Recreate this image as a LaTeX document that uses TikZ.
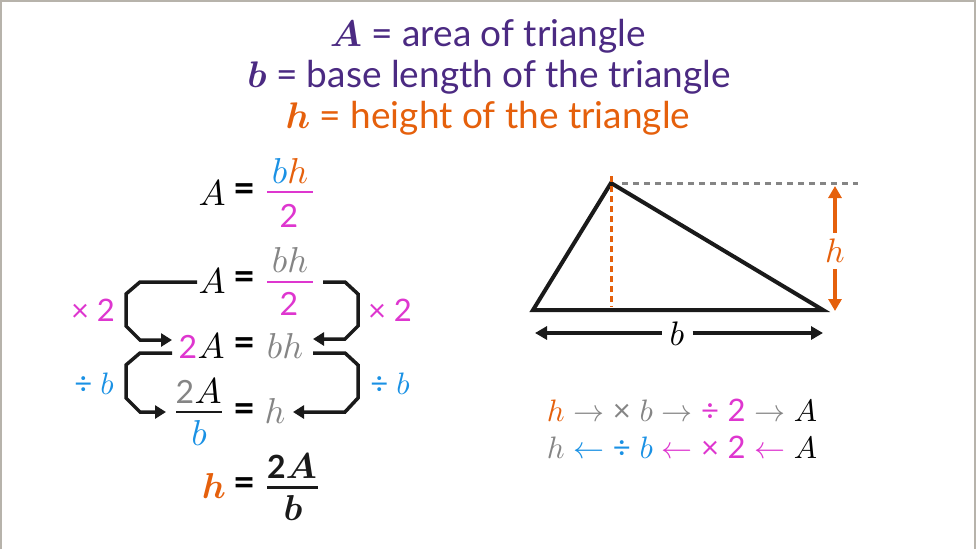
\documentclass[tikz,border=0pt]{standalone}
\usepackage{amsmath}
\usepackage{fontspec}
\setmainfont{Lato}
\setsansfont{Lato}
\DeclareFontShape{OML}{cmm}{m}{it}{<->cmmi10}{}
\DeclareFontShape{OML}{cmm}{b}{it}{<->cmmib10}{}
\DeclareFontShape{OMS}{cmsy}{m}{n}{<->cmsy10}{}
\DeclareFontShape{OMS}{cmsy}{b}{n}{<->cmbsy10}{}
\usetikzlibrary{arrows.meta}
\definecolor{tpurple}{HTML}{4B2A82}
\definecolor{torange}{HTML}{E5600C}
\definecolor{tblue}{HTML}{1A91E4}
\definecolor{tmag}{HTML}{DE36CF}
\definecolor{tgray}{HTML}{858585}
\definecolor{tframe}{HTML}{B7B3AB}
\definecolor{ink}{HTML}{1A1A1A}
\tikzset{
  ttl/.style={font=\fontsize{37}{42}\selectfont, anchor=base, inner sep=0pt},
  eq/.style={font=\fontsize{36}{40}\selectfont, anchor=base, inner sep=0pt},
  dig/.style={font=\fontsize{32}{36}\selectfont, anchor=base, inner sep=0pt},
  eqop/.style={font=\fontsize{38}{40}\bfseries\selectfont, inner sep=0pt},
  lbl/.style={font=\fontsize{31}{36}\selectfont, inner sep=0pt},
  fbar/.style={line width=2.8pt},
  brk/.style={line width=3.5pt, draw=ink, -{Triangle[length=11pt,width=13pt]}},
  tri/.style={line width=4pt, draw=ink},
  odash/.style={line width=3pt, draw=torange, dash pattern=on 6pt off 4pt},
  gdash/.style={line width=3pt, draw=tgray, dash pattern=on 6pt off 5pt},
  oarr/.style={line width=3.5pt, draw=torange, -{Triangle[length=12pt,width=13pt]}},
  barr/.style={line width=3.5pt, draw=ink, -{Triangle[length=12pt,width=13pt]}},
}
\begin{document}
\begin{tikzpicture}[x=1pt,y=-1pt]
\useasboundingbox (0,0) rectangle (976,549);
\draw[tframe, line width=2pt] (1,549) -- (1,1) -- (975,1) -- (975,549);

% title
\node[ttl, text=tpurple] (t1) at (488,46) {{\boldmath$A$} = area of triangle};
\node[ttl, text=tpurple] (t2) at (489,87) {{\boldmath$b$} = base length of the triangle};
\node[ttl, text=torange] (t3) at (488,128) {{\boldmath$h$} = height of the triangle};

% formula 1
\node[eq] (f1A) at (212,205) {$A$};
\node[eqop] (f1eq) at (245,193) {=};
\draw[fbar, tmag] (267,192) -- (313,192);
\node[eq] (f1n) at (290,183) {$\color{tblue}b\color{torange}h$};
\node[dig, text=tmag] (f1d) at (289,227) {2};

% formula 2
\node[eq] (f2A) at (212,293) {$A$};
\node[eqop] (f2eq) at (245,281) {=};
\draw[fbar, tmag] (267,282) -- (313,282);
\node[eq, text=tgray] (f2n) at (290,272) {$bh$};
\node[dig, text=tmag] (f2d) at (289,315) {2};

% formula 3
\node[dig, text=tmag] (f3two) at (188,358) {2};
\node[eq] (f3A) at (211,358) {$A$};
\node[eqop] (f3eq) at (245,347) {=};
\node[eq, text=tgray] (f3r) at (285,358) {$bh$};

% formula 4
\node[dig, text=tgray] (f4two) at (185,403) {2};
\node[eq] (f4A) at (208,403) {$A$};
\draw[fbar, ink] (176,412) -- (222,412);
\node[eq, text=tblue] (f4d) at (199,445) {$b$};
\node[eqop] (f4eq) at (245,413) {=};
\node[eq, text=tgray] (f4h) at (275,423) {$h$};

% formula 5
\node[eq, text=torange] (f5h) at (214,498) {{\boldmath$h$}};
\node[eqop] (f5eq) at (245,487) {=};
\draw[fbar, ink, line width=3pt] (267,487) -- (318,487);
\node[eq, text=ink] (f5n) at (292,478) {{\fontsize{32}{36}\bfseries 2}{\boldmath$A$}};
\node[eq, text=ink] (f5d) at (293,520) {{\boldmath$b$}};

% brackets
\coordinate (b1s) at (197,282);
\coordinate (b1e) at (172,340);
\draw[brk] (b1s) -- (140,282) -- (126,294) -- (126,326) -- (140,340) -- (b1e);
\coordinate (b2s) at (323,282);
\coordinate (b2e) at (313,339);
\draw[brk] (b2s) -- (345,282) -- (358,294) -- (358,326) -- (345,339) -- (b2e);
\coordinate (b3s) at (172,353);
\coordinate (b3e) at (166,412);
\draw[brk] (b3s) -- (140,353) -- (126,365) -- (126,398) -- (140,412) -- (b3e);
\coordinate (b4s) at (313,353);
\coordinate (b4e) at (293,412);
\draw[brk] (b4s) -- (345,353) -- (358,365) -- (358,398) -- (345,412) -- (b4e);

\node[lbl, text=tmag] (l1) at (93,310) {× 2};
\node[lbl, text=tblue] (l2) at (94,384) {÷ $b$};
\node[lbl, text=tmag] (r1) at (390,310) {× 2};
\node[lbl, text=tblue] (r2) at (390,384) {÷ $b$};

% triangle
\coordinate (pa) at (533,310);
\coordinate (pb) at (611,183);
\coordinate (pc) at (823,310);
\draw[tri] (pa) -- (pb) -- (pc) -- cycle;
\coordinate (pf) at (611,307);
\draw[odash] ([yshift=7pt]pb) -- (pf);
\coordinate (gd) at (858,183);
\draw[gdash] ([xshift=11pt]pb) -- (gd);

\node[lbl, text=torange, font=\fontsize{34}{36}\selectfont] (hl) at (835,251) {$h$};
\coordinate (ht) at (835,186);
\coordinate (hb) at (835,311);
\draw[oarr] (hl.north) ++(0,-6) -- (ht);
\draw[oarr] (hl.south) ++(0,6) -- (hb);

\node[lbl, font=\fontsize{34}{36}\selectfont] (bl) at (677,334) {$b$};
\coordinate (bla) at (535,333);
\coordinate (bra) at (823,333);
\draw[barr] ([xshift=-8pt]bl.west |- bla) -- (bla);
\draw[barr] ([xshift=8pt]bl.east |- bra) -- (bra);

% flow lines
\node[lbl] (w1) at (682,410) {$\color{torange}h\;\color{tgray}{\rightarrow}\;\text{×}\;b\;{\rightarrow}\;\color{tmag}\text{÷}\;\text{2}\;\color{tgray}{\rightarrow}\;\color{black}A$};
\node[lbl] (w2) at (682,447) {$\color{tgray}h\;\color{tblue}{\leftarrow}\;\text{÷}\;b\;\color{tmag}{\leftarrow}\;\text{×}\;\text{2}\;{\leftarrow}\;\color{black}A$};
\end{tikzpicture}
\end{document}
